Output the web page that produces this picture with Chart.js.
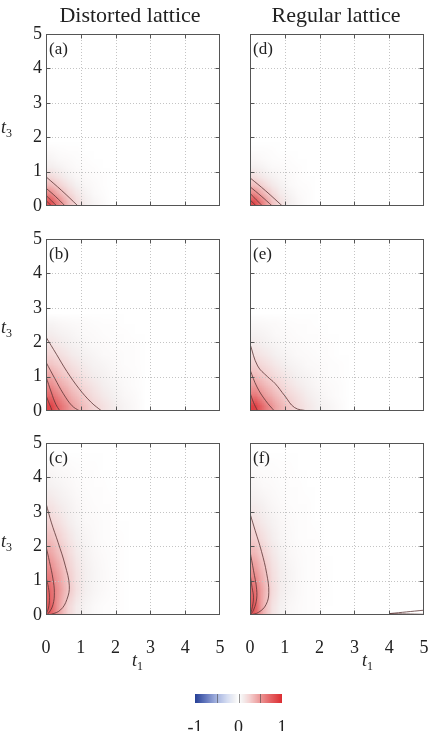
<!DOCTYPE html>
<html>
<head>
<meta charset="utf-8">
<script src="https://cdn.jsdelivr.net/npm/chart.js@4.4.0/dist/chart.umd.min.js"></script>
<style>
  body { margin: 0; background: #fff; width: 430px; height: 731px; position: relative; overflow: hidden;
         font-family: "Liberation Serif", "DejaVu Serif", serif; color: #222; }
  canvas { position: absolute; z-index: 0; }
  .lbl { position: absolute; white-space: nowrap; line-height: 1; color: #222; z-index: 1; }
  .ttl { font-size: 22px; transform: translateX(-50%); }
  .ax { font-size: 18px; font-style: italic; }
  .ax sub { font-size: 12px; font-style: normal; vertical-align: -4px; }
</style>
</head>
<body>
<div class="lbl ttl" style="left:130px;top:4px">Distorted lattice</div>
<div class="lbl ttl" style="left:336px;top:4px">Regular lattice</div>
<div class="lbl ax" style="left:1px;top:118px">t<sub>3</sub></div>
<div class="lbl ax" style="left:1px;top:318px">t<sub>3</sub></div>
<div class="lbl ax" style="left:1px;top:532px">t<sub>3</sub></div>
<div class="lbl ax" style="left:132px;top:651px">t<sub>1</sub></div>
<div class="lbl ax" style="left:362px;top:651px">t<sub>1</sub></div>

<script>
// axis ticks shared by every panel
const axisTicks = [0, 1, 2, 3, 4, 5];
const colorbarTicks = [-1, 0, 1];
const colorbarDividers = [-0.5, 0, 0.5];

// heat grids: rows go from t3 = 0 upwards, columns from t1 = 0 rightwards
// extent = [t1 max, t3 max] covered by each grid
const extA = [2, 2];
const heatA = [
  [0.82, 0.56, 0.34, 0.20, 0.11, 0.06, 0.03, 0.00],
  [0.56, 0.38, 0.24, 0.14, 0.08, 0.04, 0.02, 0.00],
  [0.34, 0.24, 0.15, 0.09, 0.05, 0.03, 0.01, 0.00],
  [0.20, 0.14, 0.09, 0.05, 0.03, 0.02, 0.01, 0.00],
  [0.11, 0.08, 0.05, 0.03, 0.02, 0.01, 0.00, 0.00],
  [0.06, 0.04, 0.03, 0.02, 0.01, 0.00, 0.00, 0.00],
  [0.03, 0.02, 0.01, 0.01, 0.00, 0.00, 0.00, 0.00],
  [0.00, 0.00, 0.00, 0.00, 0.00, 0.00, 0.00, 0.00]
];
const extB = [3, 3];
const heatB = [
  [0.88, 0.64, 0.46, 0.34, 0.24, 0.17, 0.11, 0.07, 0.04, 0.00],
  [0.70, 0.52, 0.38, 0.28, 0.19, 0.13, 0.09, 0.05, 0.03, 0.00],
  [0.54, 0.40, 0.30, 0.21, 0.15, 0.10, 0.07, 0.04, 0.02, 0.00],
  [0.42, 0.31, 0.23, 0.16, 0.11, 0.08, 0.05, 0.03, 0.02, 0.00],
  [0.31, 0.24, 0.17, 0.12, 0.08, 0.06, 0.04, 0.02, 0.01, 0.00],
  [0.23, 0.17, 0.12, 0.09, 0.06, 0.04, 0.03, 0.02, 0.01, 0.00],
  [0.16, 0.12, 0.09, 0.06, 0.04, 0.03, 0.02, 0.01, 0.01, 0.00],
  [0.11, 0.08, 0.06, 0.04, 0.03, 0.02, 0.01, 0.01, 0.00, 0.00],
  [0.07, 0.05, 0.04, 0.03, 0.02, 0.01, 0.01, 0.00, 0.00, 0.00],
  [0.00, 0.00, 0.00, 0.00, 0.00, 0.00, 0.00, 0.00, 0.00, 0.00]
];
const extC = [2.5, 5];
const heatC = [
  [0.76, 0.44, 0.23, 0.12, 0.07, 0.04, 0.02, 0.01, 0.01, 0.00],
  [0.70, 0.48, 0.30, 0.17, 0.10, 0.06, 0.04, 0.02, 0.01, 0.00],
  [0.58, 0.42, 0.27, 0.16, 0.10, 0.06, 0.04, 0.02, 0.01, 0.00],
  [0.45, 0.33, 0.22, 0.13, 0.08, 0.05, 0.03, 0.02, 0.01, 0.00],
  [0.33, 0.25, 0.16, 0.10, 0.06, 0.04, 0.02, 0.01, 0.01, 0.00],
  [0.23, 0.17, 0.11, 0.07, 0.04, 0.03, 0.02, 0.01, 0.00, 0.00],
  [0.15, 0.11, 0.08, 0.05, 0.03, 0.02, 0.01, 0.01, 0.00, 0.00],
  [0.09, 0.07, 0.05, 0.03, 0.02, 0.01, 0.01, 0.00, 0.00, 0.00],
  [0.05, 0.04, 0.03, 0.02, 0.01, 0.01, 0.00, 0.00, 0.00, 0.00],
  [0.00, 0.00, 0.00, 0.00, 0.00, 0.00, 0.00, 0.00, 0.00, 0.00]
];
const extD = [2, 2];
const heatD = [
  [0.84, 0.56, 0.32, 0.18, 0.10, 0.05, 0.02, 0.00],
  [0.56, 0.37, 0.22, 0.12, 0.07, 0.03, 0.02, 0.00],
  [0.32, 0.22, 0.13, 0.08, 0.04, 0.02, 0.01, 0.00],
  [0.18, 0.12, 0.08, 0.05, 0.03, 0.01, 0.00, 0.00],
  [0.10, 0.07, 0.04, 0.03, 0.02, 0.01, 0.00, 0.00],
  [0.05, 0.03, 0.02, 0.01, 0.01, 0.00, 0.00, 0.00],
  [0.02, 0.02, 0.01, 0.00, 0.00, 0.00, 0.00, 0.00],
  [0.00, 0.00, 0.00, 0.00, 0.00, 0.00, 0.00, 0.00]
];
const extE = [3, 3];
const heatE = [
  [0.90, 0.62, 0.43, 0.31, 0.21, 0.14, 0.09, 0.06, 0.03, 0.00],
  [0.64, 0.46, 0.34, 0.24, 0.17, 0.11, 0.07, 0.04, 0.02, 0.00],
  [0.46, 0.35, 0.26, 0.18, 0.12, 0.08, 0.05, 0.03, 0.02, 0.00],
  [0.34, 0.26, 0.19, 0.13, 0.09, 0.06, 0.04, 0.02, 0.01, 0.00],
  [0.25, 0.19, 0.13, 0.09, 0.06, 0.04, 0.03, 0.02, 0.01, 0.00],
  [0.17, 0.13, 0.09, 0.06, 0.04, 0.03, 0.02, 0.01, 0.00, 0.00],
  [0.12, 0.09, 0.06, 0.04, 0.03, 0.02, 0.01, 0.01, 0.00, 0.00],
  [0.08, 0.06, 0.04, 0.03, 0.02, 0.01, 0.01, 0.00, 0.00, 0.00],
  [0.05, 0.04, 0.03, 0.02, 0.01, 0.01, 0.00, 0.00, 0.00, 0.00],
  [0.00, 0.00, 0.00, 0.00, 0.00, 0.00, 0.00, 0.00, 0.00, 0.00]
];
const extF = [2.5, 5];
const heatF = [
  [0.78, 0.38, 0.17, 0.09, 0.05, 0.03, 0.02, 0.01, 0.00, 0.00],
  [0.68, 0.40, 0.21, 0.11, 0.07, 0.04, 0.02, 0.01, 0.01, 0.00],
  [0.52, 0.34, 0.19, 0.11, 0.07, 0.04, 0.02, 0.01, 0.01, 0.00],
  [0.38, 0.26, 0.15, 0.09, 0.05, 0.03, 0.02, 0.01, 0.00, 0.00],
  [0.26, 0.18, 0.11, 0.06, 0.04, 0.02, 0.01, 0.01, 0.00, 0.00],
  [0.17, 0.12, 0.08, 0.05, 0.03, 0.02, 0.01, 0.00, 0.00, 0.00],
  [0.11, 0.08, 0.05, 0.03, 0.02, 0.01, 0.01, 0.00, 0.00, 0.00],
  [0.06, 0.04, 0.03, 0.02, 0.01, 0.01, 0.00, 0.00, 0.00, 0.00],
  [0.03, 0.02, 0.02, 0.01, 0.01, 0.00, 0.00, 0.00, 0.00, 0.00],
  [0.00, 0.00, 0.00, 0.00, 0.00, 0.00, 0.00, 0.00, 0.00, 0.00]
];

// contour lines, [t1, t3] points
const contA = [
  [[0, 0.85], [0.45, 0.45], [0.92, 0]],
  [[0, 0.52], [0.28, 0.27], [0.55, 0]],
  [[0, 0.31], [0.16, 0.15], [0.31, 0]],
  [[0, 0.16], [0.16, 0]]
];
const contB = [
  [[0, 2.15], [0.3, 1.65], [0.6, 1.15], [0.95, 0.65], [1.3, 0.25], [1.6, 0]],
  [[0, 1.42], [0.25, 0.95], [0.5, 0.5], [0.75, 0.15], [0.97, 0]],
  [[0, 1.0], [0.15, 0.55], [0.28, 0.2], [0.4, 0]],
  [[0, 0.45], [0.1, 0.2], [0.18, 0]]
];
const contC = [
  [[0, 3.25], [0.15, 2.7], [0.35, 2.1], [0.55, 1.45], [0.67, 0.85], [0.6, 0.45], [0.42, 0.15], [0.15, 0.02], [0, 0]],
  [[0, 2.0], [0.1, 1.55], [0.2, 1.05], [0.24, 0.65], [0.2, 0.3], [0.08, 0.06], [0, 0]],
  [[0, 1.1], [0.07, 0.8], [0.1, 0.5], [0.07, 0.2], [0, 0.02]]
];
const contD = [
  [[0, 0.82], [0.45, 0.44], [0.93, 0]],
  [[0, 0.56], [0.32, 0.29], [0.64, 0]],
  [[0, 0.37], [0.18, 0.18], [0.36, 0]],
  [[0, 0.18], [0.18, 0]]
];
const contE = [
  [[0, 1.95], [0.22, 1.31], [0.5, 1.0], [0.72, 0.8], [1.0, 0.44], [1.28, 0.1], [1.65, 0]],
  [[0, 1.2], [0.2, 0.7], [0.45, 0.3], [0.7, 0]],
  [[0, 0.53], [0.1, 0.25], [0.22, 0]]
];
const contF = [
  [[0, 2.95], [0.15, 2.45], [0.33, 1.85], [0.48, 1.2], [0.54, 0.65], [0.46, 0.3], [0.25, 0.08], [0, 0]],
  [[0, 1.85], [0.1, 1.3], [0.19, 0.75], [0.18, 0.4], [0.08, 0.1], [0, 0]],
  [[0, 1.2], [0.06, 0.8], [0.1, 0.5], [0.05, 0.15], [0, 0]],
  [[4.0, 0.04], [5.0, 0.14]],
  [[4.0, 0.04], [5.0, 0.02]]
];

const panelLabels = ['(a)', '(b)', '(c)', '(d)', '(e)', '(f)'];
const heats = [heatA, heatB, heatC, heatD, heatE, heatF];
const extents = [extA, extB, extC, extD, extE, extF];
const contours = [contA, contB, contC, contD, contE, contF];

// page layout (pixels)
const colLeft = [46, 250];
const rowTop = [34, 239, 443];
const plotW = 174, plotH = 172;

// colour map: white at 0, greyish tint for tiny values, red up / blue down
const mapPos = [0, 0.1, 0.25, 0.5, 0.75, 1];
const redStops = [[255, 255, 255], [244, 239, 239], [244, 210, 210], [236, 150, 150], [228, 95, 97], [220, 45, 50]];
const blueStops = [[255, 255, 255], [239, 240, 244], [215, 222, 242], [165, 180, 224], [100, 120, 190], [38, 64, 150]];
function heatColor(v) {
  const s = v >= 0 ? redStops : blueStops;
  const a = Math.min(Math.abs(v), 1);
  let i = 0;
  while (i < mapPos.length - 2 && a > mapPos[i + 1]) i++;
  const f = (a - mapPos[i]) / (mapPos[i + 1] - mapPos[i]);
  return s[i].map((c, k) => Math.round(c + (s[i + 1][k] - c) * f));
}

// keep the plot box exactly where the layout says
function fixX(h) {
  return s => { s.height = h; s.paddingLeft = 0; s.paddingRight = 0; s.paddingTop = 0; s.paddingBottom = 0; };
}
function fixY(w) {
  return s => { s.width = w; s.paddingLeft = 0; s.paddingRight = 0; s.paddingTop = 0; s.paddingBottom = 0; };
}

function makePanelPlugin(idx) {
  return {
    id: 'panel' + idx,
    beforeDatasetsDraw(chart) {
      const { ctx, chartArea: ca, scales: { x, y } } = chart;
      const heat = heats[idx], ext = extents[idx];
      const rows = heat.length, cols = heat[0].length;
      const off = document.createElement('canvas');
      off.width = cols; off.height = rows;
      const octx = off.getContext('2d');
      const img = octx.createImageData(cols, rows);
      heat.forEach((row, r) => row.forEach((v, c) => {
        const k = ((rows - 1 - r) * cols + c) * 4;
        const [R, G, B] = heatColor(v);
        img.data[k] = R; img.data[k + 1] = G; img.data[k + 2] = B; img.data[k + 3] = 255;
      }));
      octx.putImageData(img, 0, 0);
      const x0 = x.getPixelForValue(0), x1 = x.getPixelForValue(ext[0]);
      const y0 = y.getPixelForValue(0), y1 = y.getPixelForValue(ext[1]);
      ctx.save();
      ctx.beginPath();
      ctx.rect(ca.left, ca.top, ca.width, ca.height);
      ctx.clip();
      ctx.imageSmoothingEnabled = true;
      ctx.imageSmoothingQuality = 'low';
      ctx.drawImage(off, x0, y1, x1 - x0, y0 - y1);

      // dotted grid
      ctx.strokeStyle = '#c4c4c4';
      ctx.lineWidth = 1;
      ctx.setLineDash([1, 2]);
      axisTicks.slice(1, -1).forEach(t => {
        const px = Math.round(x.getPixelForValue(t)) + 0.5;
        const py = Math.round(y.getPixelForValue(t)) + 0.5;
        ctx.beginPath();
        ctx.moveTo(px, ca.top); ctx.lineTo(px, ca.bottom);
        ctx.moveTo(ca.left, py); ctx.lineTo(ca.right, py);
        ctx.stroke();
      });
      ctx.restore();
    },
    afterDraw(chart) {
      const { ctx, chartArea: ca, scales: { x, y } } = chart;
      ctx.save();
      ctx.strokeStyle = '#555';
      ctx.lineWidth = 1;
      const l = Math.round(ca.left) + 0.5, t = Math.round(ca.top) + 0.5;
      const r = Math.round(ca.right) - 0.5, b = Math.round(ca.bottom) - 0.5;
      ctx.strokeRect(l, t, r - l, b - t);
      // inner tick marks on all four sides
      ctx.beginPath();
      axisTicks.slice(1, -1).forEach(v => {
        const px = Math.round(x.getPixelForValue(v)) + 0.5;
        const py = Math.round(y.getPixelForValue(v)) + 0.5;
        ctx.moveTo(px, b); ctx.lineTo(px, b - 4);
        ctx.moveTo(px, t); ctx.lineTo(px, t + 4);
        ctx.moveTo(l, py); ctx.lineTo(l + 4, py);
        ctx.moveTo(r, py); ctx.lineTo(r - 4, py);
      });
      ctx.stroke();
      ctx.fillStyle = '#222';
      ctx.font = '17px "Liberation Serif", serif';
      ctx.textBaseline = 'alphabetic';
      ctx.fillText(panelLabels[idx], ca.left + 3, ca.top + 20);
      ctx.restore();
    }
  };
}

const serif = "'Liberation Serif', 'DejaVu Serif', serif";
Chart.defaults.font.family = serif;

for (let idx = 0; idx < 6; idx++) {
  const col = Math.floor(idx / 3), row = idx % 3;
  const leftCol = col === 0, bottomRow = row === 2;
  const yW = leftCol ? 46 : 12;
  const xH = bottomRow ? 40 : 0;
  const padTop = 12, padRight = 12, padBottom = bottomRow ? 0 : 12;

  const cv = document.createElement('canvas');
  cv.width = yW + plotW + padRight;
  cv.height = padTop + plotH + xH + padBottom;
  cv.style.left = (colLeft[col] - yW) + 'px';
  cv.style.top = (rowTop[row] - padTop) + 'px';
  document.body.appendChild(cv);

  new Chart(cv, {
    type: 'line',
    data: {
      datasets: contours[idx].map(line => ({
        data: line.map(([t1, t3]) => ({ x: t1, y: t3 })),
        borderColor: '#5a3434',
        borderWidth: 0.8,
        pointRadius: 0,
        tension: 0.4,
        fill: false
      }))
    },
    options: {
      responsive: false,
      animation: false,
      events: [],
      layout: { padding: { top: padTop, right: padRight, bottom: padBottom, left: 0 } },
      plugins: { legend: { display: false }, tooltip: { enabled: false } },
      scales: {
        x: {
          type: 'linear', min: 0, max: 5,
          afterBuildTicks: s => { s.ticks = axisTicks.map(v => ({ value: v })); },
          afterFit: fixX(xH),
          grid: { display: false, drawTicks: false },
          border: { display: false },
          ticks: { display: bottomRow, padding: 22, color: '#222', font: { family: serif, size: 18 } }
        },
        y: {
          type: 'linear', min: 0, max: 5,
          afterBuildTicks: s => { s.ticks = axisTicks.map(v => ({ value: v })); },
          afterFit: fixY(yW),
          grid: { display: false, drawTicks: false },
          border: { display: false },
          ticks: { display: leftCol, padding: 4, color: '#222', font: { family: serif, size: 18 } }
        }
      }
    },
    plugins: [makePanelPlugin(idx)]
  });
}

// colour bar
const cbCanvas = document.createElement('canvas');
cbCanvas.width = 117;
cbCanvas.height = 45;
cbCanvas.style.left = '180px';
cbCanvas.style.top = '690px';
document.body.appendChild(cbCanvas);

new Chart(cbCanvas, {
  type: 'line',
  data: { datasets: [] },
  options: {
    responsive: false,
    animation: false,
    events: [],
    layout: { padding: { top: 4, right: 15, bottom: 0, left: 0 } },
    plugins: { legend: { display: false }, tooltip: { enabled: false } },
    scales: {
      x: {
        type: 'linear', min: -1, max: 1,
        afterBuildTicks: s => { s.ticks = colorbarTicks.map(v => ({ value: v })); },
        afterFit: fixX(32),
        grid: { display: false, drawTicks: false },
        border: { display: false },
        ticks: { padding: 14, color: '#222', font: { family: serif, size: 18 } }
      },
      y: {
        type: 'linear', min: 0, max: 1,
        afterFit: fixY(15),
        grid: { display: false, drawTicks: false },
        border: { display: false },
        ticks: { display: false }
      }
    }
  },
  plugins: [{
    id: 'colorbar',
    beforeDatasetsDraw(chart) {
      const { ctx, chartArea: ca, scales: { x } } = chart;
      ctx.save();
      for (let px = Math.round(ca.left); px < Math.round(ca.right); px++) {
        const v = x.getValueForPixel(px + 0.5);
        const [R, G, B] = heatColor(v);
        ctx.fillStyle = `rgb(${R},${G},${B})`;
        ctx.fillRect(px, ca.top, 1, ca.height);
      }
      ctx.strokeStyle = 'rgba(60,60,60,0.55)';
      ctx.lineWidth = 1;
      ctx.beginPath();
      colorbarDividers.forEach(v => {
        const px = Math.round(x.getPixelForValue(v)) + 0.5;
        ctx.moveTo(px, ca.top); ctx.lineTo(px, ca.bottom);
      });
      ctx.stroke();
      ctx.restore();
    }
  }]
});
</script>
</body>
</html>
